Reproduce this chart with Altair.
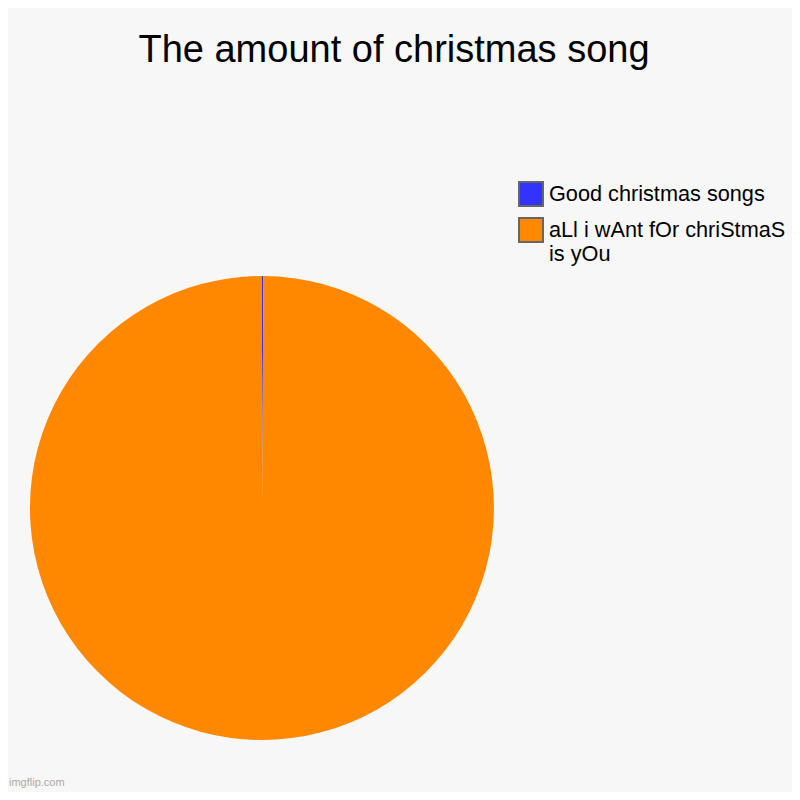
import altair as alt
import pandas as pd

categories = ["Good christmas songs", "aLl i wAnt fOr chriStmaS is yOu"]
values = [0.1, 99.9]
colors = ["#3333ff", "#ff8800"]
order = [0, 1]

df = pd.DataFrame({"cat": categories, "val": values, "ord": order})

label_expr = ("datum.label == 'aLl i wAnt fOr chriStmaS is yOu' ? "
              "['aLl i wAnt fOr chriStmaS', 'is yOu'] : datum.label")

pie = alt.Chart(df).mark_arc(outerRadius=232, stroke=None).encode(
    theta=alt.Theta("val:Q", stack=True),
    order=alt.Order("ord:Q"),
    color=alt.Color(
        "cat:N",
        scale=alt.Scale(domain=categories, range=colors),
        legend=alt.Legend(
            title=None,
            orient="none",
            legendX=510,
            legendY=93,
            symbolType="square",
            symbolSize=576,
            symbolStrokeColor="#666666",
            symbolStrokeWidth=2,
            symbolOpacity=1,
            labelFont="Liberation Sans",
            labelFontSize=21.7,
            labelColor="#000000",
            labelOffset=5,
            labelLimit=400,
            labelExpr=label_expr,
            rowPadding=4,
            padding=0,
        ),
    ),
    x=alt.value(254),
    y=alt.value(420),
)

wm = alt.Chart(pd.DataFrame({"t": ["imgflip.com"]})).mark_text(
    font="Liberation Sans", fontSize=11, color="#aaaaaa", align="left", baseline="alphabetic"
).encode(text="t:N", x=alt.value(1), y=alt.value(698))

chart = alt.layer(pie, wm).properties(
    width=784,
    height=704,
    autosize=alt.AutoSizeParams(type="none"),
    padding={"top": 80, "left": 0, "right": 0, "bottom": 0},
    background="#f7f7f7",
    title=alt.TitleParams(
        "The amount of christmas song",
        font="Liberation Sans",
        fontSize=38,
        fontWeight="normal",
        color="#000000",
        anchor="middle",
        baseline="alphabetic",
        offset=-12,
        dx=-6,
    ),
).configure_view(stroke=None)

chart.save("out.html", embed_options={"renderer": "svg", "actions": False})
